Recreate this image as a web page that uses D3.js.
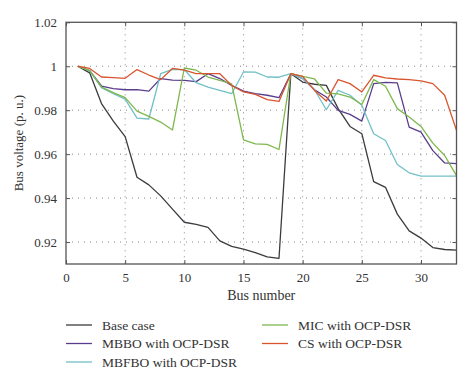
<!DOCTYPE html>
<html><head><meta charset="utf-8">
<script src="https://cdn.jsdelivr.net/npm/d3@7"></script>
<style>body{margin:0;background:#fff}svg{display:block}text{font-family:"Liberation Serif","DejaVu Serif",serif;fill:#333}</style>
</head><body><svg id="c" width="474" height="383"></svg>
<script>
const buses = d3.range(1, 34);
const baseCase = [1.0,0.997,0.983,0.975,0.968,0.9495,0.946,0.941,0.935,0.929,0.928,0.9267,0.9205,0.918,0.9168,0.9152,0.9132,0.9126,0.9966,0.9928,0.9918,0.9913,0.9807,0.9726,0.9693,0.9475,0.9449,0.9327,0.9251,0.9218,0.9175,0.9166,0.9163];
const mbbo = [1.0,0.998,0.991,0.9898,0.9893,0.9894,0.9887,0.9944,0.9937,0.9936,0.993,0.9966,0.9944,0.9913,0.9887,0.9875,0.9868,0.9857,0.9966,0.9944,0.9893,0.986,0.9799,0.9781,0.975,0.9921,0.9927,0.9924,0.9723,0.970,0.9616,0.956,0.9557];
const mbfbo = [1.0,0.998,0.9903,0.9875,0.985,0.9764,0.976,0.9966,0.9986,0.9985,0.9925,0.9905,0.989,0.9875,0.9974,0.9973,0.9951,0.995,0.9966,0.9944,0.9893,0.9802,0.989,0.9868,0.9822,0.9693,0.9662,0.9553,0.9515,0.950,0.950,0.950,0.950];
const mic = [1.0,0.998,0.9905,0.988,0.9857,0.9796,0.9772,0.9746,0.971,0.9992,0.9982,0.9951,0.9936,0.992,0.9665,0.9647,0.9644,0.9621,0.9966,0.9954,0.9942,0.9878,0.9874,0.986,0.9826,0.9939,0.9909,0.9807,0.9769,0.9726,0.965,0.9594,0.9502];
const cs = [1.0,0.999,0.9951,0.9948,0.9945,0.9985,0.996,0.9939,0.999,0.9982,0.9966,0.9966,0.9966,0.9913,0.9883,0.9872,0.9848,0.984,0.9966,0.9954,0.989,0.9842,0.9939,0.9921,0.9883,0.9959,0.9947,0.9942,0.9939,0.9933,0.9921,0.9868,0.9708];
const seriesNames = ["Base case","MBBO with OCP-DSR","MBFBO with OCP-DSR","MIC with OCP-DSR","CS with OCP-DSR"];
const seriesColors = ["#3b3b40","#5a3d8e","#72c0c6","#7db84e","#d9552e"];
const xTicks = [0,5,10,15,20,25,30];
const yTicks = [0.92,0.94,0.96,0.98,1.0,1.02];
const yTickLabels = ["0.92","0.94","0.96","0.98","1","1.02"];

const data = [baseCase, mbbo, mbfbo, mic, cs];
const svg = d3.select("#c");
const L=66,R=456.5,T=22.3,B=264;
const x = d3.scaleLinear().domain([0,33]).range([L,R]);
const y = d3.scaleLinear().domain([0.91,1.02]).range([B,T]);

// grid
const g = svg.append("g");
g.selectAll("line.gx").data(xTicks.filter(d=>d>0)).enter().append("line")
 .attr("x1",d=>x(d)).attr("x2",d=>x(d)).attr("y1",T).attr("y2",B)
 .attr("stroke","#888").attr("stroke-width",1).attr("stroke-dasharray","1,5");
g.selectAll("line.gy").data(yTicks.filter(d=>d<1.02)).enter().append("line")
 .attr("x1",L).attr("x2",R).attr("y1",d=>y(d)).attr("y2",d=>y(d))
 .attr("stroke","#888").attr("stroke-width",1).attr("stroke-dasharray","1,5");

// lines
const line = d3.line().x((d,i)=>x(buses[i])).y(d=>y(d));
data.forEach((s,k)=>{
  svg.append("path").datum(s).attr("d",line).attr("fill","none")
   .attr("stroke",seriesColors[k]).attr("stroke-width",1.3).attr("stroke-linejoin","round");
});

// axes
const ax = svg.append("g").attr("transform",`translate(0,${B})`)
 .call(d3.axisBottom(x).tickValues(xTicks).tickSizeInner(-4).tickSizeOuter(0).tickPadding(9));
const axT = svg.append("g").attr("transform",`translate(0,${T})`)
 .call(d3.axisTop(x).tickValues(xTicks).tickSizeInner(-4).tickSizeOuter(0).tickFormat(""));
const ay = svg.append("g").attr("transform",`translate(${L},0)`)
 .call(d3.axisLeft(y).tickValues(yTicks).tickFormat((d,i)=>yTickLabels[i]).tickSizeInner(-4).tickSizeOuter(0).tickPadding(9));
const ayR = svg.append("g").attr("transform",`translate(${R},0)`)
 .call(d3.axisRight(y).tickValues(yTicks).tickSizeInner(-4).tickSizeOuter(0).tickFormat(""));
[ax,axT,ay,ayR].forEach(a=>{
  a.select(".domain").remove();
  a.selectAll("line").attr("stroke","#555");
  a.selectAll("text").style("font-family",'"Liberation Serif",serif').style("font-size","13px").attr("fill","#333");
});
svg.append("rect").attr("x",L).attr("y",T).attr("width",R-L).attr("height",B-T)
 .attr("fill","none").attr("stroke","#555").attr("stroke-width",1.3);

svg.append("text").attr("x",(L+R)/2).attr("y",300).attr("text-anchor","middle")
 .style("font-size","14px").text("Bus number");
svg.append("text").attr("transform",`translate(23,${(T+B)/2}) rotate(-90)`).attr("text-anchor","middle")
 .style("font-size","13px").text("Bus voltage (p. u.)");

// legend
const legPos = [[66,325],[66,343.5],[66,362],[262,325],[262,343.5]];
seriesNames.forEach((n,k)=>{
  const [lx,ly]=legPos[k];
  svg.append("line").attr("x1",lx).attr("x2",lx+26).attr("y1",ly).attr("y2",ly)
   .attr("stroke",seriesColors[k]).attr("stroke-width",1.3);
  svg.append("text").attr("x",lx+36).attr("y",ly+4.5).style("font-size","13.5px").text(n);
});
</script></body></html>
